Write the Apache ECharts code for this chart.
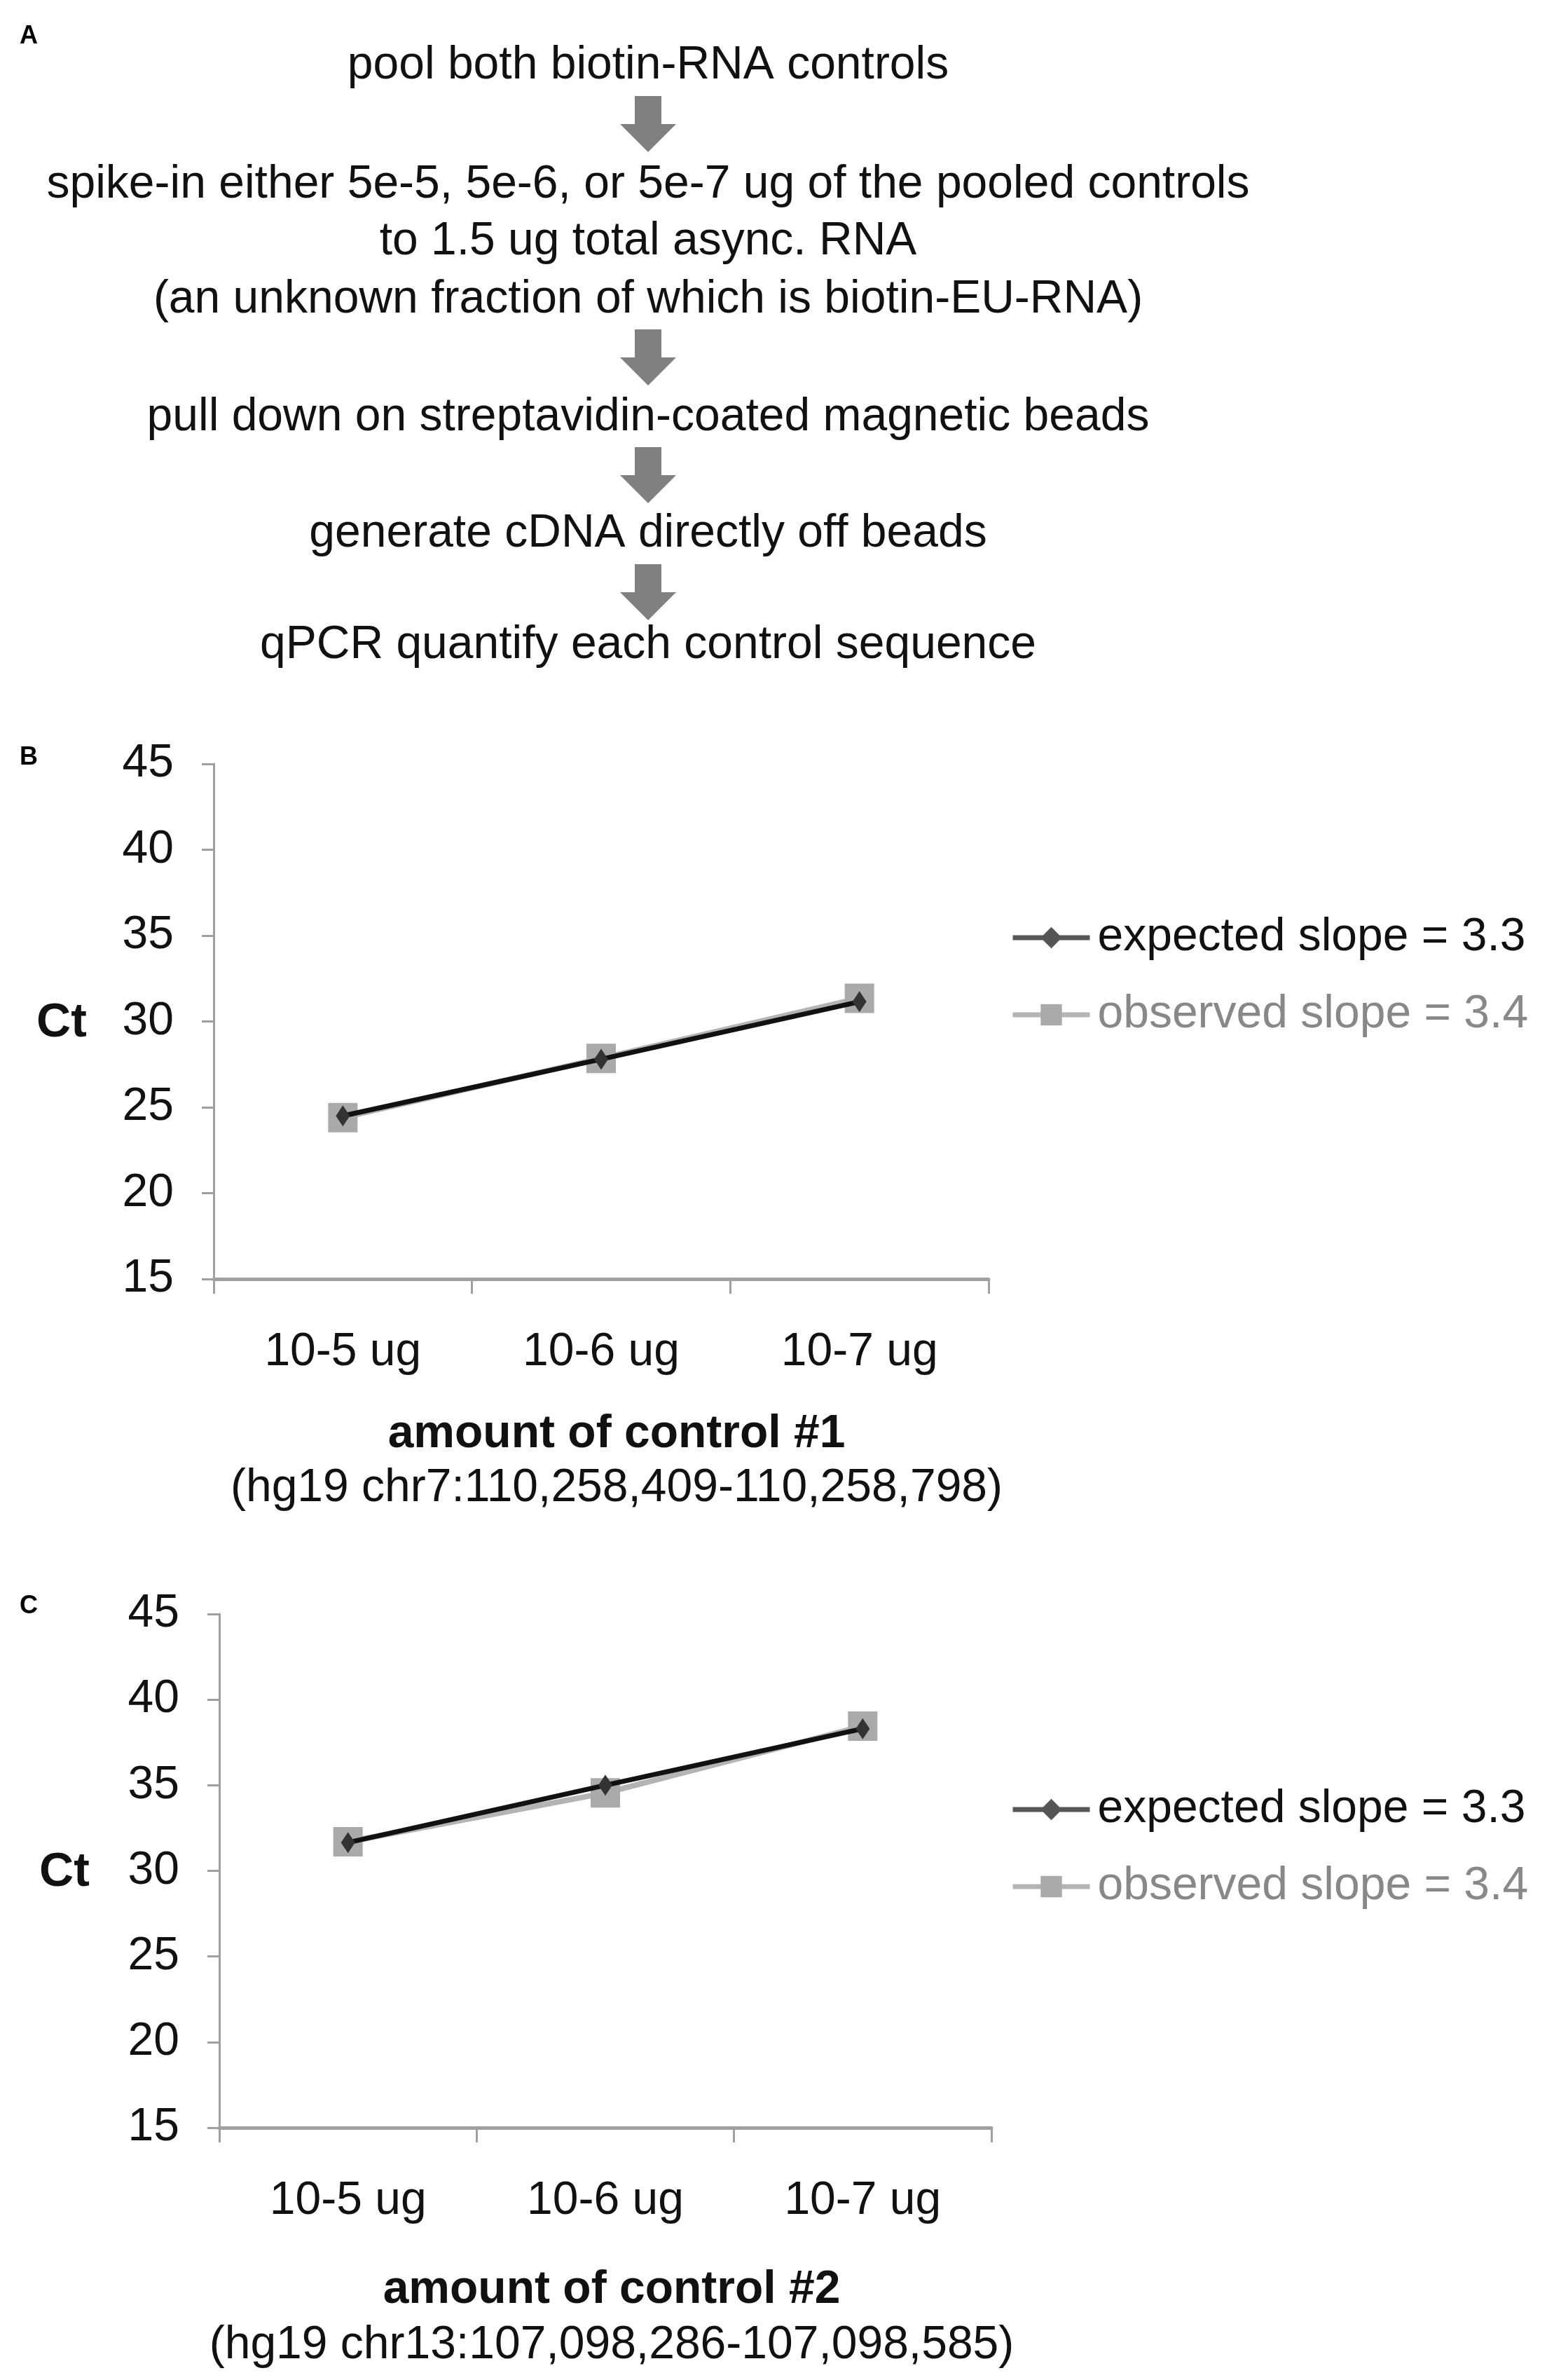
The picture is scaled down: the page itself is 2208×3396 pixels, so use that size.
<!DOCTYPE html>
<html>
<head>
<meta charset="utf-8">
<script src="https://cdn.jsdelivr.net/npm/echarts@6/dist/echarts.min.js"></script>
<style>
html,body{margin:0;padding:0;background:#fff;}
#chart{width:2208px;height:3396px;}
</style>
</head>
<body>
<div id="chart"></div>
<script>
// ---- data ----
const categories = ['10-5 ug', '10-6 ug', '10-7 ug'];
const expectedB = [24.5, 27.8, 31.15];
const observedB = [24.4, 27.85, 31.35];
const expectedC = [31.65, 35.0, 38.3];
const observedC = [31.7, 34.55, 38.45];
const yMin = 15, yMax = 45, yStep = 5;
const seriesNames = ['expected slope = 3.3', 'observed slope = 3.4'];
const xTitleB = 'amount of control #1';
const xSubB = '(hg19 chr7:110,258,409-110,258,798)';
const xTitleC = 'amount of control #2';
const xSubC = '(hg19 chr13:107,098,286-107,098,585)';
const flowLines = [
  'pool both biotin-RNA controls',
  'spike-in either 5e-5, 5e-6, or 5e-7 ug of the pooled controls',
  'to 1.5 ug total async. RNA',
  '(an unknown fraction of which is biotin-EU-RNA)',
  'pull down on streptavidin-coated magnetic beads',
  'generate cDNA directly off beads',
  'qPCR quantify each control sequence'
];

// ---- layout ----
const FONT = '"Liberation Sans", Arial, sans-serif';
const flowY = [94, 264, 345, 428, 596, 762, 921];
const arrowTops = [137, 470, 638, 805];
const flowCX = 925;

const graphics = [];
flowLines.forEach((t, i) => {
  graphics.push({type: 'text', x: flowCX, y: flowY[i], style: {text: t, font: '66px ' + FONT, fill: '#111', align: 'center', verticalAlign: 'middle'}});
});
arrowTops.forEach(t => {
  graphics.push({type: 'polygon', shape: {points: [
    [flowCX - 19, t], [flowCX + 19, t], [flowCX + 19, t + 40], [flowCX + 40, t + 40],
    [flowCX, t + 80], [flowCX - 40, t + 40], [flowCX - 19, t + 40]
  ]}, style: {fill: '#808080'}});
});
const panelLabel = (txt, x, y) => ({type: 'text', x: x, y: y, style: {text: txt, font: 'bold 36px ' + FONT, fill: '#000', align: 'left', verticalAlign: 'middle'}});
graphics.push(panelLabel('A', 28, 52));
graphics.push(panelLabel('B', 28, 1081));
graphics.push(panelLabel('C', 28, 2292));
const ctLabel = (x, y) => ({type: 'text', x: x, y: y, style: {text: 'Ct', font: 'bold 68px ' + FONT, fill: '#111', align: 'center', verticalAlign: 'middle'}});
graphics.push(ctLabel(88, 1460));
graphics.push(ctLabel(92, 2672));
const titleText = (t, sub, cx, y1, y2) => {
  graphics.push({type: 'text', x: cx, y: y1, style: {text: t, font: 'bold 66px ' + FONT, fill: '#111', align: 'center', verticalAlign: 'middle'}});
  graphics.push({type: 'text', x: cx, y: y2, style: {text: sub, font: '66px ' + FONT, fill: '#111', align: 'center', verticalAlign: 'middle'}});
};
titleText(xTitleB, xSubB, 880, 2047, 2124);
titleText(xTitleC, xSubC, 873, 3268, 3347);

const grids = [
  {left: 305, top: 1090, width: 1106, height: 735},
  {left: 313, top: 2303, width: 1102, height: 733}
];

const xAxisCfg = gi => ({
  type: 'category', gridIndex: gi, data: categories, boundaryGap: true,
  axisLine: {lineStyle: {color: '#a0a0a0', width: 5}},
  axisTick: {show: true, length: 21, lineStyle: {color: '#a0a0a0', width: 3}},
  axisLabel: {fontSize: 66, fontFamily: FONT, color: '#111', margin: 72},
  splitLine: {show: false}
});
const yAxisCfg = gi => ({
  type: 'value', gridIndex: gi, min: yMin, max: yMax, interval: yStep,
  axisLine: {show: true, lineStyle: {color: '#a0a0a0', width: 3}},
  axisTick: {show: true, length: 17, lineStyle: {color: '#a0a0a0', width: 3}},
  axisLabel: {fontSize: 66, fontFamily: FONT, color: '#111', margin: 57},
  splitLine: {show: false}
});

const mkSeries = (gi, exp, obs) => [
  {
    name: seriesNames[1], type: 'line', xAxisIndex: gi, yAxisIndex: gi, data: obs, z: 2,
    symbol: 'rect', symbolSize: 42, itemStyle: {color: '#aaaaaa'},
    lineStyle: {color: '#b4b4b4', width: 8}, emphasis: {disabled: true}
  },
  {
    name: seriesNames[0], type: 'line', xAxisIndex: gi, yAxisIndex: gi, data: exp, z: 3,
    symbol: 'diamond', symbolSize: [20, 30], itemStyle: {color: '#333333'},
    lineStyle: {color: '#111111', width: 7}, emphasis: {disabled: true}
  }
];

const legendCfg = top => ({
  orient: 'vertical', left: 1437, top: top, itemWidth: 110, itemHeight: 38, itemGap: 44,
  selectedMode: false,
  data: [
    {name: seriesNames[0], textStyle: {color: '#111'}, lineStyle: {color: '#555555', width: 7}, itemStyle: {color: '#555555'}},
    {name: seriesNames[1], textStyle: {color: '#888'}, lineStyle: {color: '#b4b4b4', width: 7}, itemStyle: {color: '#aaaaaa'}}
  ],
  textStyle: {fontSize: 66, fontFamily: FONT, lineHeight: 66, padding: [0, 0, 0, 6]}
});

const chart = echarts.init(document.getElementById('chart'), null, {renderer: 'canvas'});
chart.setOption({
  backgroundColor: '#fff',
  animation: false,
  grid: grids,
  xAxis: [xAxisCfg(0), xAxisCfg(1)],
  yAxis: [yAxisCfg(0), yAxisCfg(1)],
  legend: [legendCfg(1300), legendCfg(2544)],
  series: [...mkSeries(0, expectedB, observedB), ...mkSeries(1, expectedC, observedC)],
  graphic: graphics
});
</script>
</body>
</html>
